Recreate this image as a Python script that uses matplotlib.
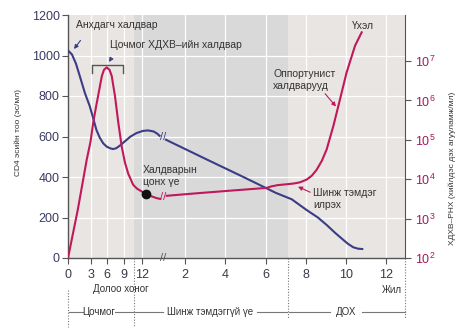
import matplotlib
matplotlib.use("Agg")
import matplotlib.pyplot as plt
import numpy as np

plt.rcParams['font.family'] = ['Liberation Sans Narrow', 'Liberation Sans', 'DejaVu Sans']
plt.rcParams['mathtext.fontset'] = 'custom'
plt.rcParams['mathtext.rm'] = 'Liberation Sans'

# --- data ---------------------------------------------------------------
# acute phase, time in weeks
cd4_weeks = [0, 0.53, 1.06, 1.6, 2.25, 2.9, 3.5, 4.1, 4.7, 5.36, 6.0, 6.6, 7.1, 7.7, 8.4,
             9.3, 10.1, 11.1, 12.2, 13.0, 13.9, 14.5, 15.0]
cd4_acute = [1025, 1005, 960, 895, 815, 750, 690, 632, 595, 566, 550, 542, 538, 542, 556,
             578, 599, 617, 628, 630, 625, 614, 600]
# chronic phase, time in years
cd4_years = [1.0, 3.0, 5.0, 6.05, 6.5, 6.9, 7.3, 8.04, 8.6, 9.04, 9.45, 9.87, 10.1, 10.36,
             10.6, 10.86]
cd4_chronic = [586, 490, 395, 344, 322, 306, 290, 237, 200, 163, 125, 89, 70, 53, 46, 44]

vl_weeks = [0, 1.3, 2.5, 3.0, 3.5, 4.0, 4.4, 5.1, 5.5, 6.0, 6.5, 6.9, 7.48, 8.07, 8.68,
            9.24, 9.77, 10.56, 11.2, 11.95, 12.66, 13.5, 14.4, 15.0]
vl_acute_log = [2.0, 3.22, 4.50, 4.95, 5.44, 5.82, 6.11, 6.62, 6.78, 6.84, 6.78, 6.62,
                6.11, 5.44, 4.83, 4.42, 4.14, 3.86, 3.76, 3.69, 3.63, 3.57, 3.52, 3.50]
vl_years = [1.08, 2.74, 4.5, 6.05, 6.3, 6.6, 7.0, 7.38, 7.7, 8.04, 8.3, 8.54, 8.8, 9.04,
            9.37, 9.62, 10.03, 10.45, 10.78]
vl_chronic_log = [3.58, 3.65, 3.72, 3.78, 3.82, 3.85, 3.87, 3.89, 3.92, 3.99, 4.09, 4.24,
                  4.47, 4.76, 5.35, 5.86, 6.71, 7.39, 7.73]

window_week = 12.66         # window period marker
window_log = 3.63
acute_end_week = 10.7       # end of acute phase
aids_start_year = 7.1       # start of AIDS phase

week_ticks = [0, 3, 6, 9, 12]
year_ticks = [2, 4, 6, 8, 10, 12]
cd4_ticks = [0, 200, 400, 600, 800, 1000, 1200]
vl_ticks = [2, 3, 4, 5, 6, 7]

NAVY = '#3b3c85'
RED = '#c0185a'
TXT = '#333333'

# --- time -> horizontal position (schematic, weeks then years) ----------
week_pos = [0, 22.5, 38.7, 55.5, 74]


def wk(w):
    w = np.asarray(w, dtype=float)
    p = np.interp(w, week_ticks, week_pos)
    return np.where(w > 12, 74 + (w - 12) * 6.1, p)


def yr(y):
    return 77 + 20.1 * np.asarray(y, dtype=float)


BREAK = 95

fig = plt.figure(figsize=(4.74, 3.31), dpi=100)
ax = fig.add_axes([68 / 474, 73 / 331, 337 / 474, 243 / 331])
ax.set_xlim(0, 337)
ax.set_ylim(0, 1200)

# background phases
ax.axvspan(0, wk(acute_end_week), color='#e8e5e2', zorder=0, lw=0)
ax.axvspan(wk(acute_end_week), yr(aids_start_year), color='#d9d9d9', zorder=0, lw=0)
ax.axvspan(yr(aids_start_year), 337, color='#e8e5e2', zorder=0, lw=0)

xt = list(wk(week_ticks)) + list(yr(year_ticks))
xl = [str(t) for t in week_ticks] + [str(t) for t in year_ticks]
ax.set_xticks(xt)
ax.set_xticklabels(xl)
ax.set_yticks(cd4_ticks)
for x in xt[1:]:
    ax.axvline(x, color='white', lw=0.9, zorder=0.5)
for y in cd4_ticks[1:-1]:
    ax.axhline(y, color='white', lw=0.9, zorder=0.5)

for s in ['top', 'right']:
    ax.spines[s].set_visible(False)
for s in ['left', 'bottom']:
    ax.spines[s].set_color('#555555')
    ax.spines[s].set_linewidth(1.0)
ax.tick_params(axis='both', length=4, width=0.8, color='#555555', labelsize=9)
ax.tick_params(axis='y', labelcolor='#3a3c62', pad=2)
ax.tick_params(axis='x', labelcolor='#3a3a48', pad=4)
for lab in ax.get_xticklabels() + ax.get_yticklabels():
    lab.set_family(['Liberation Sans', 'DejaVu Sans'])

# CD4 count
ax.plot(wk(cd4_weeks), cd4_acute, color=NAVY, lw=1.5, zorder=3, solid_capstyle='butt')
ax.plot(yr(cd4_years), cd4_chronic, color=NAVY, lw=1.5, zorder=3, solid_capstyle='butt')
ax.text(BREAK, 600, '//', color=NAVY, fontsize=8, ha='center', va='center', zorder=4)
ax.text(BREAK, 0, '//', color='#555555', fontsize=8, ha='center', va='center', zorder=4,
        clip_on=False)

# viral load on log axis
ax2 = ax.twinx()
ax2.set_yscale('log')
ax2.set_ylim(1e2, 10 ** 8.17)
ax2.set_yticks([10.0 ** v for v in vl_ticks])
ax2.set_yticklabels(['$10^{%d}$' % v for v in vl_ticks])
ax2.yaxis.set_minor_locator(plt.NullLocator())
for s in ['top', 'left', 'bottom']:
    ax2.spines[s].set_visible(False)
ax2.spines['right'].set_color('#555555')
ax2.tick_params(axis='y', length=4, width=0.8, color='#555555', labelsize=9,
                labelcolor='#a31a5a', pad=3)

ax2.plot(wk(vl_weeks), 10.0 ** np.array(vl_acute_log), color=RED, lw=1.5, zorder=3)
ax2.plot(yr(vl_years), 10.0 ** np.array(vl_chronic_log), color=RED, lw=1.5, zorder=3)
ax2.text(BREAK, 10 ** 3.54, '//', color=RED, fontsize=8, ha='center', va='center')
ax2.plot(wk(window_week), 10 ** window_log, 'o', color='#111111', ms=6, zorder=5)

# annotations
FS = 7.5
ax.annotate('Анхдагч халдвар', xy=(6, 1032), xytext=(49, 1151), fontsize=FS, color=TXT,
            ha='center', va='center',
            arrowprops=dict(arrowstyle='-|>', color=NAVY, lw=0.8, mutation_scale=6,
                            shrinkA=7, shrinkB=0, relpos=(0.15, 0)))
ax.annotate('Цочмог ХДХВ–ийн халдвар', xy=(41, 968), xytext=(42, 1052), fontsize=FS,
            color=TXT, ha='left', va='center',
            arrowprops=dict(arrowstyle='-|>', color=NAVY, lw=0.8, mutation_scale=6,
                            shrinkA=6, shrinkB=0, relpos=(0.05, 0)))
ax.plot([24, 24, 55, 55], [914, 953, 953, 914], color='#555555', lw=1.0, zorder=4)
ax.text(75, 404, 'Халдварын\nцонх үе', fontsize=FS, color=TXT, ha='left', va='center',
        linespacing=1.25)
ax.annotate('Оппортунист\nхалдварууд', xy=(268, 748), xytext=(205, 880), fontsize=FS,
            color=TXT, ha='left', va='center', linespacing=1.3,
            arrowprops=dict(arrowstyle='-|>', color=RED, lw=0.8, mutation_scale=6,
                            shrinkA=0, shrinkB=0, relpos=(0.8, 0)))
ax.text(295, 1146, 'Үхэл', fontsize=FS, color=TXT, ha='center', va='center')
ax.annotate('Шинж тэмдэг\nилрэх', xy=(230, 352), xytext=(245, 291), fontsize=FS,
            color=TXT, ha='left', va='center', linespacing=1.3,
            arrowprops=dict(arrowstyle='-|>', color=RED, lw=0.8, mutation_scale=6,
                            shrinkA=0, shrinkB=0, relpos=(0, 0.75)))

# labels below the time axis
tr = ax.get_xaxis_transform()
ax.text(53, -0.128, 'Долоо хоног', transform=tr, fontsize=7, color=TXT,
        ha='center', va='center')
ax.text(334, -0.132, 'Жил', transform=tr, fontsize=7, color=TXT, ha='right', va='center')

for x, y0, y1 in [(0, -0.13, -0.284), (wk(acute_end_week), 0, -0.284),
                  (yr(aids_start_year), 0, -0.245), (337, 0, -0.245)]:
    ax.plot([x, x], [y0, y1], transform=tr, clip_on=False, color='#777777', lw=0.8,
            ls=(0, (1, 1.5)))

py = -0.222
for x0, x1 in [(1, 15), (47, 95), (189, 219), (221, 262), (294, 337)]:
    ax.plot([x0, x1], [py, py], transform=tr, clip_on=False, color='#777777', lw=0.8)
ax.text(31, py, 'Цочмог', transform=tr, fontsize=7, color=TXT, ha='center', va='center')
ax.text(142, py, 'Шинж тэмдэггүй үе', transform=tr, fontsize=7, color=TXT,
        ha='center', va='center')
ax.text(278, py, 'ДОХ', transform=tr, fontsize=7, color=TXT, ha='center', va='center')

fig.text(18 / 474, 1 - 132 / 331, 'CD4 эсийн тоо (эс/мл)', rotation=90, fontsize=6,
         color=TXT, ha='center', va='center')
fig.text(452 / 474, 1 - 168 / 331, 'ХДХВ–РНХ (хийлдэс дэх агууламж/мл)', rotation=90,
         fontsize=6, color=TXT, ha='center', va='center')

fig.savefig('out.png', dpi=100)
